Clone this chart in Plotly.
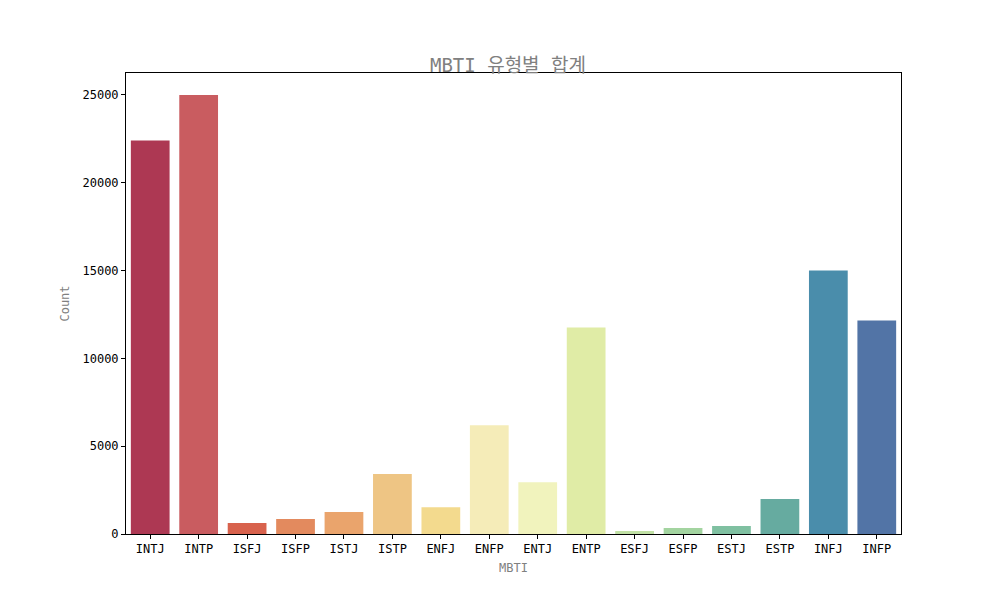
import plotly.graph_objects as go

# MBTI type counts
mbti_types = ["INTJ", "INTP", "ISFJ", "ISFP", "ISTJ", "ISTP", "ENFJ", "ENFP",
              "ENTJ", "ENTP", "ESFJ", "ESFP", "ESTJ", "ESTP", "INFJ", "INFP"]
counts = [22400, 25000, 620, 850, 1250, 3410, 1530, 6190,
          2950, 11760, 170, 340, 450, 1990, 15000, 12160]
bar_colors = ["#ad3853", "#c95c60", "#d8624d", "#e38a5e", "#eaa46c", "#eec584",
              "#f3da8e", "#f5ecb8", "#f1f3bd", "#e0eca6", "#c1e1a5", "#a3d4a0",
              "#7fc0a1", "#66aba0", "#4a8dab", "#5274a6"]
y_ticks = [0, 5000, 10000, 15000, 20000, 25000]

font = "DejaVu Sans Mono, Noto Sans CJK KR, monospace"

fig = go.Figure(go.Bar(x=mbti_types, y=counts, marker_color=bar_colors,
                       marker_line_width=0, width=0.8))

fig.update_layout(
    width=1000, height=600,
    plot_bgcolor="white", paper_bgcolor="white",
    margin=dict(l=118, r=107, t=65, b=74),
    font=dict(family=font, size=12, color="black"),
    title=dict(text="MBTI 유형별 합계", x=0.5, xanchor="center",
               y=1 - 57 / 600, yanchor="middle",
               font=dict(family=font, size=19, color="gray")),
    showlegend=False,
)
fig.update_xaxes(title=dict(text="MBTI", font=dict(color="gray", size=12), standoff=8),
                 showline=True, linecolor="black", mirror=True, ticks="outside",
                 ticklen=4, tickcolor="black", range=[-0.5, 15.5])
fig.update_yaxes(title=dict(text="Count", font=dict(color="gray", size=12), standoff=10),
                 showline=True, linecolor="black", mirror=True, ticks="outside",
                 ticklen=4, tickcolor="black", showgrid=False, zeroline=False,
                 range=[0, 26250], tickvals=y_ticks, ticktext=[str(v) for v in y_ticks])

fig.write_html("out.html")
